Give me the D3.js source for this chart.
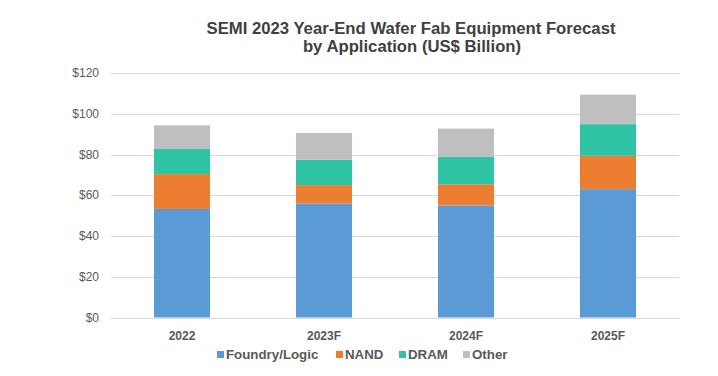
<!DOCTYPE html>
<html>
<head>
<meta charset="utf-8">
<script src="https://cdn.jsdelivr.net/npm/d3@7"></script>
<style>
  body { margin: 0; background: #fff; }
  svg { font-family: "Liberation Sans", Arial, sans-serif; }
</style>
</head>
<body>
<div id="chart"></div>
<script>
const categories = ['2022', '2023F', '2024F', '2025F'];
const seriesNames = ['Foundry/Logic', 'NAND', 'DRAM', 'Other'];
const foundryLogic = [53.3, 56.0, 55.0, 63.0];
const nand = [17.1, 9.0, 10.4, 16.4];
const dram = [12.3, 12.5, 13.4, 15.5];
const other = [11.6, 13.1, 13.9, 14.5];
const yTicks = [0, 20, 40, 60, 80, 100, 120];

const colors = ['#5b9bd5', '#ed7d31', '#2ec4a4', '#bfbfbf'];

const width = 718, height = 376;
const margin = { top: 73, right: 39, bottom: 58, left: 111 };

// rows for the stack
const rows = categories.map((c, i) => ({
  cat: c,
  'Foundry/Logic': foundryLogic[i],
  'NAND': nand[i],
  'DRAM': dram[i],
  'Other': other[i]
}));

const svg = d3.select('#chart')
  .append('svg')
  .attr('width', width)
  .attr('height', height);

const x = d3.scaleBand()
  .domain(categories)
  .range([margin.left, width - margin.right])
  .paddingInner(0.605)
  .paddingOuter(0.3025);

const y = d3.scaleLinear()
  .domain([0, 120])
  .range([height - margin.bottom - 0.5, margin.top]);

// gridlines
svg.append('g')
  .selectAll('line')
  .data(yTicks)
  .enter()
  .append('line')
  .attr('x1', margin.left)
  .attr('x2', width - margin.right)
  .attr('y1', d => Math.round(y(d)) + 0.5)
  .attr('y2', d => Math.round(y(d)) + 0.5)
  .style('stroke', '#d9d9d9')
  .style('stroke-width', 1);

// y labels
svg.append('g')
  .selectAll('text')
  .data(yTicks)
  .enter()
  .append('text')
  .attr('x', margin.left - 12)
  .attr('y', d => y(d))
  .attr('dy', '0.35em')
  .attr('text-anchor', 'end')
  .style('font-size', '12px')
  .style('fill', '#595959')
  .text(d => '$' + d);

// stacked bars
const stack = d3.stack().keys(seriesNames)(rows);

svg.append('g')
  .selectAll('g')
  .data(stack)
  .enter()
  .append('g')
  .style('fill', (_, i) => colors[i])
  .selectAll('rect')
  .data(d => d)
  .enter()
  .append('rect')
  .attr('x', d => x(d.data.cat))
  .attr('width', x.bandwidth())
  .attr('y', d => y(d[1]))
  .attr('height', d => y(d[0]) - y(d[1]));

// category labels
svg.append('g')
  .selectAll('text')
  .data(categories)
  .enter()
  .append('text')
  .attr('x', d => x(d) + x.bandwidth() / 2)
  .attr('y', 340)
  .attr('text-anchor', 'middle')
  .style('font-size', '12px')
  .style('font-weight', 'bold')
  .style('fill', '#595959')
  .text(d => d);

// title
const title = svg.append('text')
  .attr('text-anchor', 'middle')
  .style('font-size', '16.7px')
  .style('font-weight', 'bold')
  .style('fill', '#404040');
title.append('tspan').attr('x', 411).attr('y', 34)
  .text('SEMI 2023 Year-End Wafer Fab Equipment Forecast');
title.append('tspan').attr('x', 412).attr('y', 52)
  .text('by Application (US$ Billion)');

// legend
const legendX = [217, 336, 399, 463];
const legend = svg.append('g')
  .selectAll('g')
  .data(seriesNames)
  .enter()
  .append('g')
  .attr('transform', (d, i) => `translate(${legendX[i]}, 0)`);

legend.append('rect')
  .attr('x', 0)
  .attr('y', 351)
  .attr('width', 7)
  .attr('height', 7)
  .style('fill', (_, i) => colors[i]);

legend.append('text')
  .attr('x', 9)
  .attr('y', 358.5)
  .style('font-size', '13.3px')
  .style('font-weight', 'bold')
  .style('fill', '#595959')
  .text(d => d);
</script>
</body>
</html>
